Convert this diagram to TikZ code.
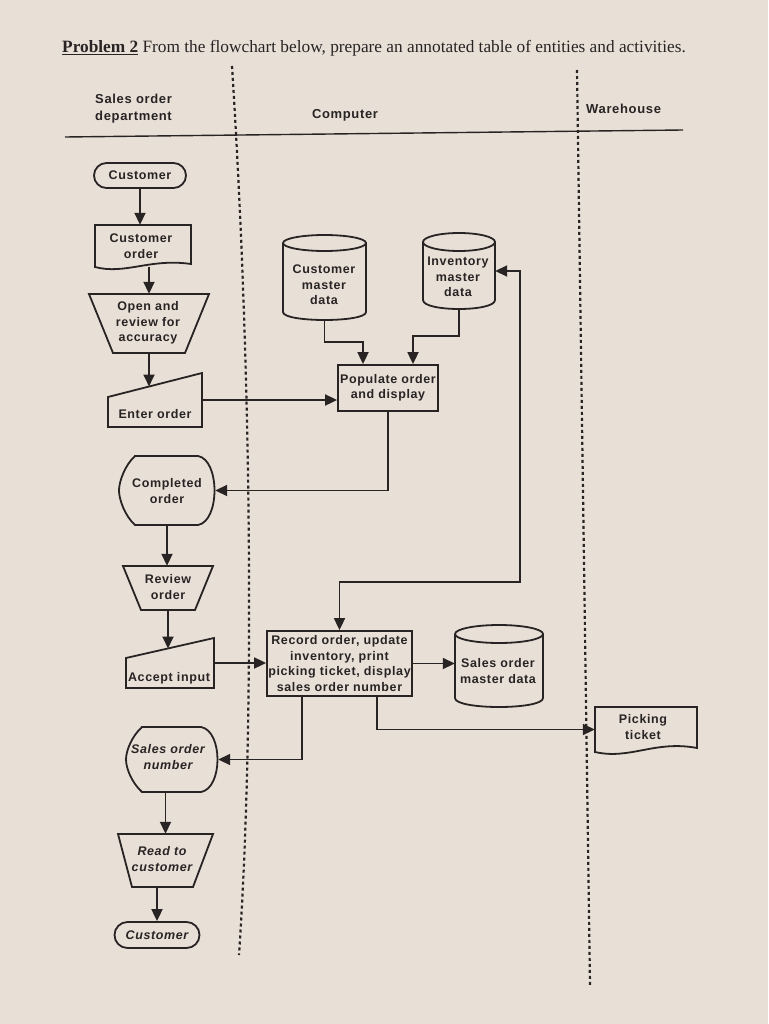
\documentclass[tikz,border=0pt]{standalone}
\usepackage{fontspec}
\setmainfont{Liberation Serif}
\setsansfont{Liberation Sans}
\newfontfamily\dfont[LetterSpace=5]{Liberation Sans}
\usetikzlibrary{arrows.meta}
\definecolor{paper}{RGB}{232,223,215}
\definecolor{ink}{RGB}{40,36,36}
% cylinder: x1 x2 ytop ybottom ry
\newcommand\mycyl[5]{%
  \pgfmathsetmacro\cxa{(#1+#2)/2}%
  \pgfmathsetmacro\crx{(#2-#1)/2}%
  \pgfmathsetmacro\cya{#3+#5}%
  \pgfmathsetmacro\cyb{#4-#5}%
  \pgfmathsetmacro\cyk{#4-#5+#5*1.333}%
  \draw[shp] (\cxa,\cya) ellipse [x radius=\crx, y radius=#5];
  \draw[shp] (#1,\cya) -- (#1,\cyb) .. controls (#1,\cyk) and (#2,\cyk) .. (#2,\cyb) -- (#2,\cya);
}
% display symbol: x1 x2 ytop ybottom
\newcommand\mydisp[4]{%
  \pgfmathsetmacro\dym{(#3+#4)/2}%
  \draw[shp] (#1+16,#3) -- (#2-17,#3) .. controls (#2+5,#3+4) and (#2+5,#4-4) .. (#2-17,#4)
    -- (#1+16,#4) .. controls (#1+6,#4-9) and (#1,\dym+9) .. (#1,\dym)
    .. controls (#1,\dym-9) and (#1+6,#3+9) .. cycle;
}
\begin{document}
\begin{tikzpicture}[x=1pt,y=-1pt,
  txt/.style={font=\dfont\bfseries\fontsize{12.5}{15.5}\selectfont, text=ink, align=center, inner sep=0pt},
  itxt/.style={txt, font=\dfont\bfseries\itshape\fontsize{12.5}{15.5}\selectfont},
  htxt/.style={txt, font=\dfont\bfseries\fontsize{13}{17}\selectfont},
  bb/.style={inner sep=0pt, draw=none},
  shp/.style={draw=ink, line width=1.8pt, line join=miter},
  conn/.style={draw=ink, line width=1.8pt, -{Triangle[length=12pt,width=11pt]}},
  conn2/.style={draw=ink, line width=1.8pt, {Triangle[length=12pt,width=11pt]}-{Triangle[length=12pt,width=11pt]}},
  lane/.style={draw=ink, line width=2.2pt, dash pattern=on 3pt off 3pt},
  rulel/.style={draw=ink, line width=1.4pt}]

\fill[paper] (0,0) rectangle (768,1024);
\useasboundingbox (0,0) rectangle (768,1024);

% title
\node[anchor=base west, inner sep=0pt, text=ink, font=\rmfamily\fontsize{17.3}{19}\selectfont] (title) at (62,53)
  {\textbf{\underline{Problem 2}} From the flowchart below, prepare an annotated table of entities and activities.};

% lanes and header rule
\coordinate (l1t) at (232,66); \coordinate (l1b) at (239,955);
\draw[lane] (l1t) .. controls (250,350) and (256,700) .. (l1b);
\coordinate (l2t) at (577,70); \coordinate (l2b) at (590,985);
\draw[lane] (l2t) -- (l2b);
\coordinate (r1) at (65,137); \coordinate (r2) at (683,130);
\draw[rulel] (r1) -- (r2);

% headers
\node[htxt, anchor=west, align=left] (hsales) at (95,109) {Sales order\\department};
\node[htxt] (hcomp) at (345,115) {Computer};
\node[htxt, anchor=west] (hware) at (586,109) {Warehouse};

% ---------- Sales order department ----------
\node[txt, shp, rounded corners=12.5pt, minimum width=92pt, minimum height=25pt] (cust1) at (140,175.5) {Customer};

\node[bb, minimum width=96pt, minimum height=42pt] (corder) at (143,246) {};
\draw[shp] (95,225) -- (191,225) -- (191,264) .. controls (150,258) and (125,275) .. (95,267) -- cycle;
\node[txt] (cordert) at (141,246) {Customer\\order};

\node[bb, minimum width=120pt, minimum height=59pt] (open) at (149,323.5) {};
\draw[shp] (89,294) -- (209,294) -- (185,353) -- (113,353) -- cycle;
\node[txt] (opent) at (148,323) {Open and\\review for\\accuracy};

\node[bb, minimum width=94pt, minimum height=54pt] (enter) at (155,400) {};
\draw[shp] (108,397) -- (202,373) -- (202,427) -- (108,427) -- cycle;
\node[txt] (entert) at (155,414) {Enter order};
\coordinate (enterin) at (149,386.5);

\node[bb, minimum width=96pt, minimum height=69pt] (comp) at (167,490.5) {};
\mydisp{119}{215}{456}{525}
\node[txt] (compt) at (167,491) {Completed\\order};

\node[bb, minimum width=90pt, minimum height=44pt] (review) at (168,588) {};
\draw[shp] (123,566) -- (213,566) -- (195,610) -- (141,610) -- cycle;
\node[txt] (reviewt) at (168,587) {Review\\order};

\node[bb, minimum width=88pt, minimum height=50pt] (accept) at (170,663) {};
\draw[shp] (126,658) -- (214,638) -- (214,688) -- (126,688) -- cycle;
\node[txt] (acceptt) at (169,678) {Accept input};
\coordinate (acceptin) at (168,648.5);

\node[bb, minimum width=92pt, minimum height=66pt] (son) at (172,759.5) {};
\mydisp{126}{218}{727}{792}
\node[itxt] (sont) at (168,757) {Sales order\\number};

\node[bb, minimum width=95pt, minimum height=53pt] (read) at (165.5,860.5) {};
\draw[shp] (118,834) -- (213,834) -- (193,887) -- (132,887) -- cycle;
\node[itxt] (readt) at (162,859) {Read to\\customer};

\node[itxt, shp, rounded corners=13pt, minimum width=85pt, minimum height=26pt] (cust2) at (157,935) {Customer};

% ---------- Computer ----------
\node[bb, minimum width=83pt, minimum height=85pt] (cmd) at (324.5,277.5) {};
\mycyl{283}{366}{235}{320}{8}
\node[txt] (cmdt) at (324,285) {Customer\\master\\data};

\node[bb, minimum width=72pt, minimum height=76pt] (imd) at (459,271) {};
\mycyl{423}{495}{233}{309}{9}
\node[txt] (imdt) at (458,277) {Inventory\\master\\data};

\node[txt, shp, minimum width=100pt, minimum height=46pt] (pop) at (388,388) {Populate order\\and display};

\node[txt, shp, minimum width=145pt, minimum height=65pt] (rec) at (339.5,663.5)
  {Record order, update\\inventory, print\\picking ticket, display\\sales order number};

\node[bb, minimum width=88pt, minimum height=82pt] (somd) at (499,666) {};
\mycyl{455}{543}{625}{707}{9}
\node[txt] (somdt) at (498,671) {Sales order\\master data};

% ---------- Warehouse ----------
\node[bb, minimum width=102pt, minimum height=45pt] (pick) at (646,729.5) {};
\draw[shp] (595,707) -- (697,707) -- (697,748) .. controls (655,740) and (630,760) .. (595,752) -- cycle;
\node[txt] (pickt) at (643,727) {Picking\\ticket};

% ---------- connectors ----------
\draw[conn] (cust1) -- (cust1 |- corder.north);
\draw[conn] (open.north |- corder.south) -- (open.north);
\draw[conn] (open.south) -- (enterin);
\draw[conn] (enter.east) -- (enter.east -| pop.west);
\draw[conn] (cmd.south) -- ++(0,22) -| ([xshift=-25pt]pop.north);
\draw[conn] (imd.south) -- ++(0,27) -| ([xshift=25pt]pop.north);
\draw[conn] (pop.south) |- (comp.east);
\draw[conn] (comp.south) -- (comp.south |- review.north);
\draw[conn] (review.south) -- (acceptin);
\draw[conn] (accept.east) -- (accept.east -| rec.west);
\draw[conn2] (imd.east) -- ++(25,0) -- ++(0,311) -| (rec.north);
\draw[conn] (rec.east) -- (rec.east -| somd.west);
\draw[conn] ([xshift=37.5pt]rec.south) |- (pick.west);
\draw[conn] ([xshift=-37.5pt]rec.south) |- (son.east);
\draw[conn] (read.north |- son.south) -- (read.north);
\draw[conn] (cust2.north |- read.south) -- (cust2.north);
\end{tikzpicture}
\end{document}
